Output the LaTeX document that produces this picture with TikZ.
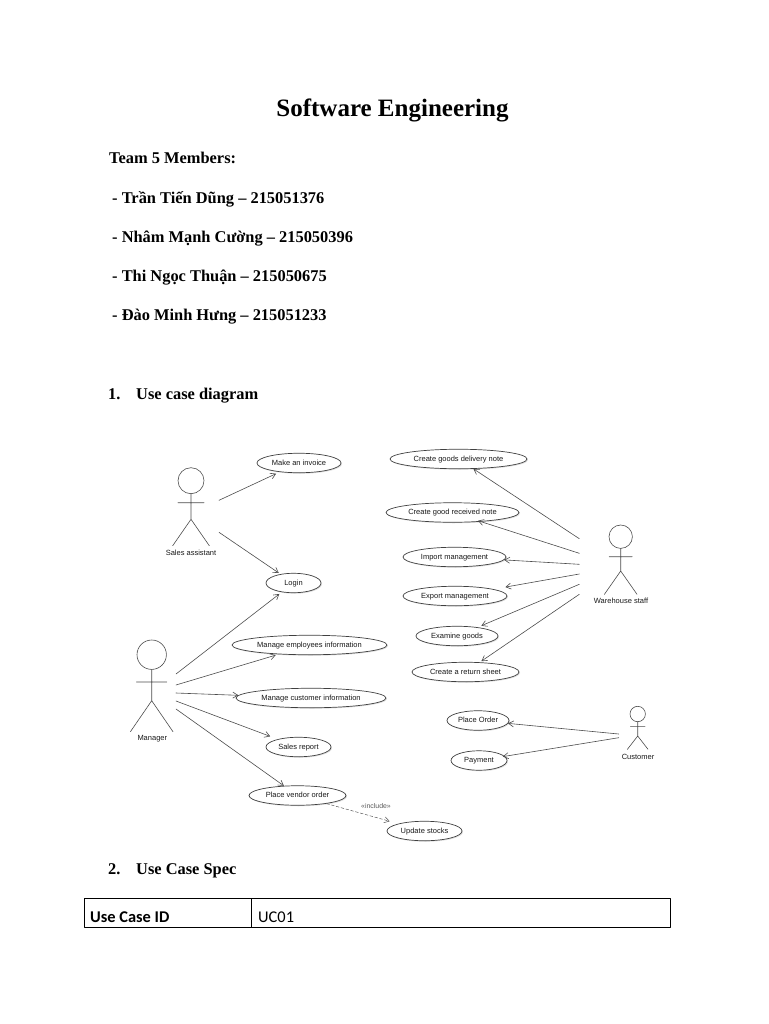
\documentclass[tikz,border=0pt]{standalone}
\usepackage{fontspec}
\setmainfont{Liberation Serif}
\setsansfont{Liberation Sans}
\newfontfamily\tablefont{Carlito}
\usetikzlibrary{arrows.meta,shapes.geometric,shadows}
\tikzset{
	usecase/.style={draw=black!75, fill=white, ellipse, inner sep=0pt, line width=0.7pt, minimum height=19.5pt, text height=5.6pt, text depth=1.6pt, font=\sffamily\fontsize{7.5}{8}\selectfont, text=black!90, drop shadow={opacity=0.25, shadow xshift=1pt, shadow yshift=-1pt}},
	assoc/.style={draw=black!70, line width=0.6pt, -{Straight Barb[length=5pt,width=6pt]}},
	actorline/.style={draw=black!70, line width=0.6pt},
	actorname/.style={font=\sffamily\fontsize{7.5}{8}\selectfont, text=black!90, inner sep=0pt},
	heading/.style={anchor=base west, inner sep=0pt, font=\bfseries\fontsize{16.4}{18}\selectfont},
	cell/.style={draw=black, line width=0.8pt, anchor=north west, minimum height=29pt, inner sep=0pt},
	celltext/.style={anchor=base west, inner sep=0pt, font=\tablefont\fontsize{16.4}{18}\selectfont}
}
\begin{document}
\begin{tikzpicture}[x=1pt, y=-1pt, line join=round, line cap=round]
	\useasboundingbox (0,0) rectangle (768,1024);
	\node[anchor=base, inner sep=0pt, font=\bfseries\fontsize{25}{28}\selectfont] (title) at (392.5,116.7) {Software Engineering};
	\node[heading] (team) at (109,164) {Team 5 Members:};
	\foreach \nm/\y/\txt in {m1/203.3/Trần Tiến Dũng – 215051376, m2/242.7/Nhâm Mạnh Cường – 215050396, m3/281.7/Thi Ngọc Thuận – 215050675, m4/320.7/Đào Minh Hưng – 215051233}
	\node[heading] (\nm) at (112,\y) {- \txt};
	\node[heading] (sec1) at (108,399.3) {1.};
	\node[heading] (sec1t) at (136,399.3) {Use case diagram};
	\node[heading] (sec2) at (108,874) {2.};
	\node[heading] (sec2t) at (136,874) {Use Case Spec};
	\foreach \nm/\cx/\cy/\w/\txt in {invoice/299/463/84/Make an invoice, login/293.5/583/55/Login, employees/309.5/645/155/Manage employees information, customers/311/698/150/Manage customer information, report/298.5/747/65/Sales report, vendor/297.5/795.5/97/Place vendor order, stocks/424.5/831/75/Update stocks, delivery/458.5/459/137/Create goods delivery note, received/452.5/512.5/133/Create good received note, import/454.5/557/103/Import management, export/455/596/104/Export management, examine/457/636/82/Examine goods, returns/465.5/672/107/Create a return sheet, order/478/720.5/62/Place Order, payment/479/760.5/56/Payment}
	\node[usecase, minimum width=\w pt] (\nm) at (\cx,\cy) {\txt};
	\foreach \hx/\hy/\r/\arm/\ay/\hip/\lx/\foot in {191/480.7/13/13/502.7/519.3/18.3/545.7, 151.7/654.7/14.7/15.2/682/700.7/21.3/731.7, 620.7/536.7/11.7/11.5/556.7/571/16.3/594.3, 637.7/714/7.7/7.3/726.3/736/10.3/749.3}
	{
		\draw[actorline] (\hx,\hy) circle (\r);
		\draw[actorline] (\hx-\arm,\ay)--(\hx+\arm,\ay) (\hx,\hy+\r)--(\hx,\hip) (\hx-\lx,\foot)--(\hx,\hip)--(\hx+\lx,\foot);
	}
	\node[actorname] (sales) at (191,552.7) {Sales assistant};
	\node[actorname] (manager) at (152.3,739) {Manager};
	\node[actorname] (warehouse) at (621,601.3) {Warehouse staff};
	\node[actorname] (buyer) at (638,756.7) {Customer};
	\foreach \nm/\x/\y in {s1/219/500.3, s2/219/532.3, g1/176/674, g2/176/685, g3/176/693, g4/176/701, g5/176/709, w1/579.3/538.7, w2/579.3/553.3, w3/579.3/564.3, w4/579.3/574, w5/579.3/584.3, w6/579.3/594.3, c1/618.7/734, c2/618.7/737.7}
	\coordinate (\nm) at (\x,\y);
	\foreach \a/\b/\s in {s1/invoice/4, s2/login/2, g1/login/3, g2/employees/3, g3/customers/0, g4/report/8, g5/vendor/0, w1/delivery/0, w2/received/-3, w3/import/0, w4/export/12, w5/examine/4, w6/returns/2, c1/order/0, c2/payment/-2}
	\draw[assoc, shorten >=\s pt] (\a)--(\b);
	\draw[assoc, densely dashed, line width=0.45pt, shorten >=9pt] (vendor)--(stocks);
	\node[inner sep=0pt, font=\sffamily\fontsize{6.9}{7}\selectfont, text=black!65] (incl) at (376,806.3) {«include»};
	\node[cell, minimum width=167pt] (idcell) at (84,898) {};
	\node[cell, minimum width=419pt] (valcell) at (251,898) {};
	\node[celltext, font=\tablefont\bfseries\fontsize{16.4}{18}\selectfont] (idtext) at (90,922.7) {Use Case ID};
	\node[celltext] (valtext) at (258,922.7) {UC01};
\end{tikzpicture}
\end{document}
